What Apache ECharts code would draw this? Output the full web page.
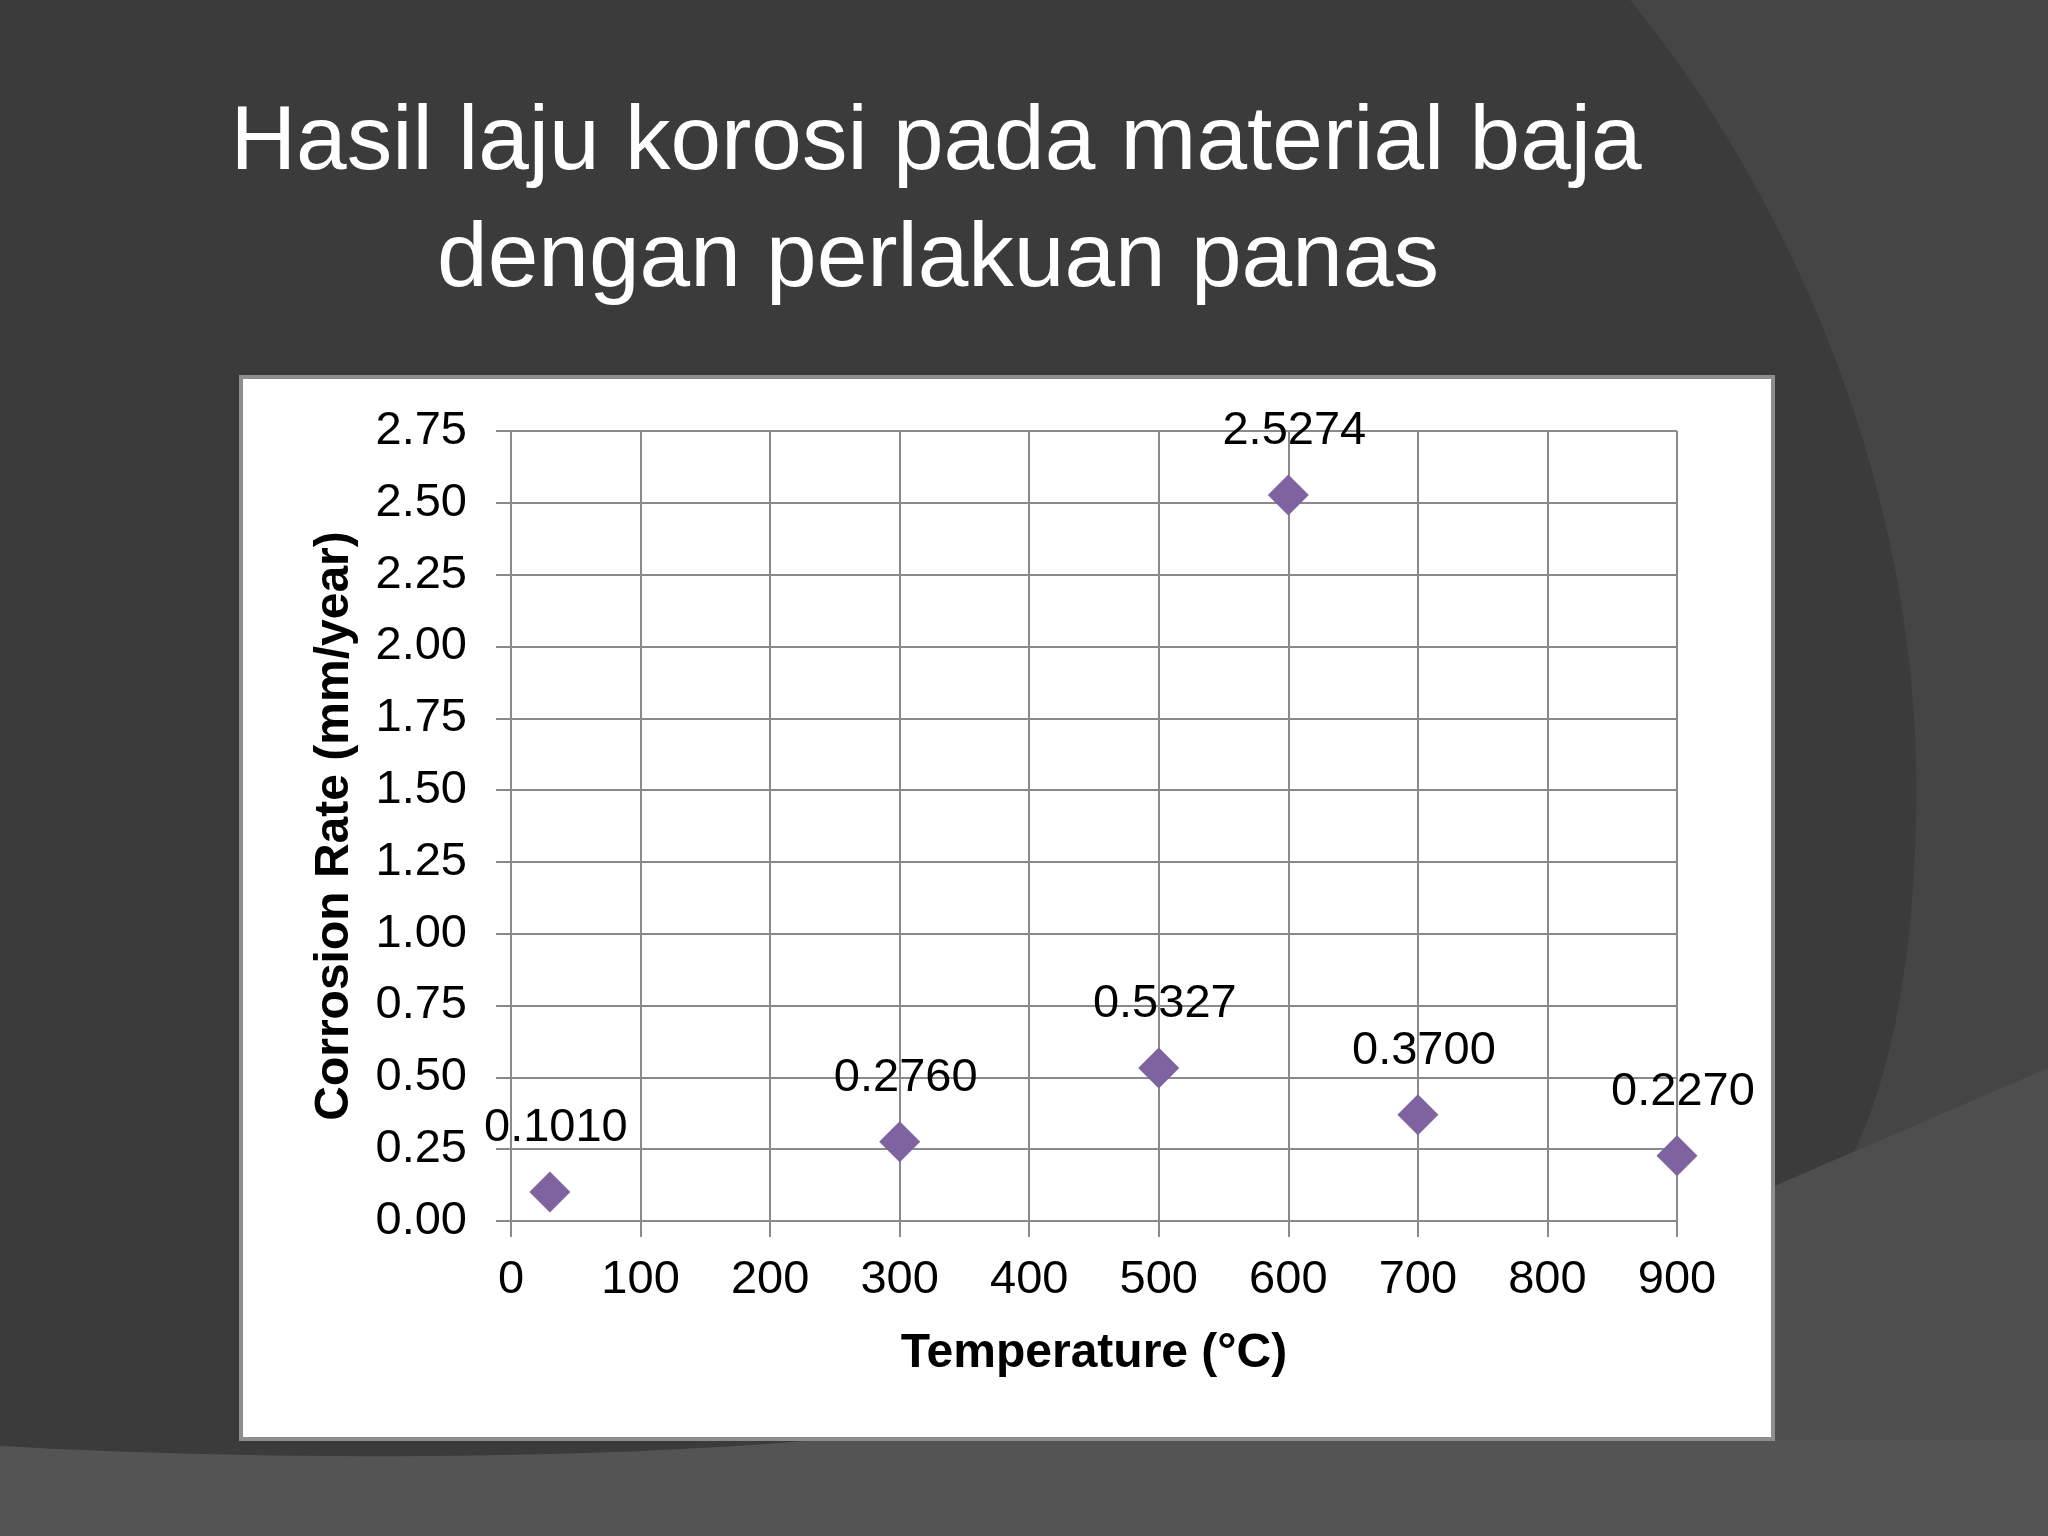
<!DOCTYPE html>
<html>
<head>
<meta charset="utf-8">
<script src="https://cdn.jsdelivr.net/npm/echarts@6/dist/echarts.min.js"></script>
<style>
html,body{margin:0;padding:0;background:#3b3b3b;}
#chart{width:2048px;height:1536px;}
</style>
</head>
<body>
<div id="chart"></div>
<script>
const titleLines = ['Hasil laju korosi pada material baja', 'dengan perlakuan panas'];
const temps = [30, 300, 500, 600, 700, 900];
const rates = [0.1010, 0.2760, 0.5327, 2.5274, 0.3700, 0.2270];
const xAxisName = 'Temperature (°C)';
const yAxisName = 'Corrosion Rate (mm/year)';

const chart = echarts.init(document.getElementById('chart'), null, {renderer: 'canvas'});
const FONT = '"Liberation Sans", Arial, sans-serif';

// decorative background curve helper (cubic bezier sampled into polygon points)
function bez(p0, p1, p2, p3, n) {
  const pts = [];
  for (let i = 0; i <= n; i++) {
    const t = i / n, u = 1 - t;
    pts.push([
      u*u*u*p0[0] + 3*u*u*t*p1[0] + 3*u*t*t*p2[0] + t*t*t*p3[0],
      u*u*u*p0[1] + 3*u*u*t*p1[1] + 3*u*t*t*p2[1] + t*t*t*p3[1]
    ]);
  }
  return pts;
}
const arcPts = bez([1630,0],[1770,170],[1925,470],[1916,820],40)
  .concat(bez([1916,820],[1912,1000],[1880,1100],[1850,1160],20).slice(1))
  .concat([[2048,1068],[2048,0]]);
const bumpPts = [[0,1436]].concat(bez([0,1446],[250,1460],[600,1462],[860,1436],30));

const option = {
  backgroundColor: '#3b3b3b',
  animation: false,
  graphic: [
    { type: 'polygon', z: -20, silent: true,
      shape: { points: arcPts },
      style: { fill: '#454545' } },
    { type: 'polygon', z: -19, silent: true,
      shape: { points: [[1700,1218],[2048,1068],[2048,1536],[1700,1536]] },
      style: { fill: '#4e4e4e' } },
    { type: 'rect', z: -18, silent: true,
      shape: { x: 0, y: 1440, width: 2048, height: 96 },
      style: { fill: '#545454' } },
    { type: 'polygon', z: -17, silent: true,
      shape: { points: bumpPts },
      style: { fill: '#3b3b3b' } },
    { type: 'rect', z: -10, silent: true,
      shape: { x: 241, y: 377, width: 1532, height: 1062 },
      style: { fill: '#ffffff', stroke: '#8e8e8e', lineWidth: 4 } },
    { type: 'text', z: 10, silent: true, x: 936, y: 144,
      style: { text: titleLines[0], textAlign: 'center', textVerticalAlign: 'middle',
        fill: '#ffffff', font: '91px ' + FONT } },
    { type: 'text', z: 10, silent: true, x: 938, y: 261,
      style: { text: titleLines[1], textAlign: 'center', textVerticalAlign: 'middle',
        fill: '#ffffff', font: '91px ' + FONT } }
  ],
  grid: { left: 511, right: 371, top: 431, bottom: 315, containLabel: false },
  xAxis: {
    type: 'value', min: 0, max: 900, interval: 100,
    name: xAxisName, nameLocation: 'middle', nameGap: 109,
    nameTextStyle: { fontFamily: FONT, fontSize: 48, fontWeight: 'bold', color: '#000' },
    axisLine: { show: true, lineStyle: { color: '#8a8a8a', width: 2 } },
    axisTick: { show: true, length: 16, lineStyle: { color: '#8a8a8a', width: 2 } },
    axisLabel: { margin: 36, fontFamily: FONT, fontSize: 47, color: '#000' },
    splitLine: { show: true, lineStyle: { color: '#8a8a8a', width: 2 } }
  },
  yAxis: {
    type: 'value', min: 0, max: 2.75, interval: 0.25,
    name: yAxisName, nameLocation: 'middle', nameGap: 152, nameRotate: 90,
    nameTextStyle: { fontFamily: FONT, fontSize: 48, fontWeight: 'bold', color: '#000' },
    axisLine: { show: true, lineStyle: { color: '#8a8a8a', width: 2 } },
    axisTick: { show: true, length: 15, lineStyle: { color: '#8a8a8a', width: 2 } },
    axisLabel: { margin: 44, fontFamily: FONT, fontSize: 47, color: '#000',
      formatter: v => v.toFixed(2) },
    splitLine: { show: true, lineStyle: { color: '#8a8a8a', width: 2 } }
  },
  series: [{
    type: 'scatter',
    data: temps.map((t, i) => [t, rates[i]]),
    symbol: 'diamond',
    symbolSize: [41, 41],
    itemStyle: { color: '#7F63A1', opacity: 1 },
    label: {
      show: true, position: 'top', distance: 20, offset: [6, 0],
      fontFamily: FONT, fontSize: 47, color: '#000', opacity: 1,
      formatter: p => p.value[1].toFixed(4)
    }
  }]
};
chart.setOption(option);
</script>
</body>
</html>
